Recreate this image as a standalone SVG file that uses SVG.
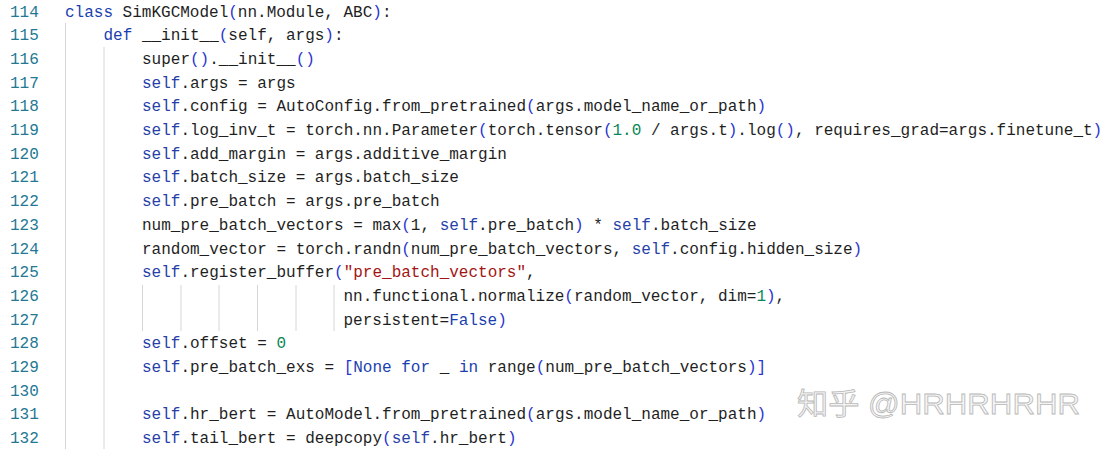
<svg xmlns="http://www.w3.org/2000/svg" width="1108" height="449" viewBox="0 0 1108 449">
<style>
text{font-family:"Liberation Mono","DejaVu Sans Mono",monospace;font-size:16px;fill:#1f1f1f;white-space:pre}
.n{fill:#237893}
.k{fill:#1a3fb0}
.s{fill:#2740a8}
.p{fill:#2a36d0}
.str{fill:#a31515}
.num{fill:#098658}
.g{stroke:#d6d6d6;stroke-width:1}
.wm{font-family:"Liberation Sans","Noto Sans CJK SC",sans-serif;font-size:30px;fill:#f4f4f4;stroke:#b8b8b8;stroke-width:0.8}
</style>
<rect width="1108" height="449" fill="#ffffff"/>
<g id="guides">
<line class="g" x1="65.5" y1="23" x2="65.5" y2="449"/>
<line class="g" x1="104" y1="47" x2="104" y2="449"/>
<line class="g" x1="142.5" y1="285" x2="142.5" y2="331"/>
<line class="g" x1="181" y1="285" x2="181" y2="331"/>
<line class="g" x1="219" y1="285" x2="219" y2="331"/>
<line class="g" x1="257.5" y1="285" x2="257.5" y2="331"/>
<line class="g" x1="296" y1="285" x2="296" y2="331"/>
<line class="g" x1="334" y1="285" x2="334" y2="331"/>
</g>
<g id="code" xml:space="preserve">
<text x="10" y="16.5" class="n">114</text>
<text x="65" y="16.5"><tspan class="k">class</tspan> SimKGCModel<tspan class="p">(</tspan>nn.Module, ABC<tspan class="p">)</tspan>:</text>
<text x="10" y="40.2" class="n">115</text>
<text x="103.5" y="40.2"><tspan class="k">def</tspan> __init__<tspan class="p">(</tspan>self, args<tspan class="p">)</tspan>:</text>
<text x="10" y="63.9" class="n">116</text>
<text x="142" y="63.9">super<tspan class="p">()</tspan>.__init__<tspan class="p">()</tspan></text>
<text x="10" y="87.6" class="n">117</text>
<text x="142" y="87.6"><tspan class="s">self</tspan>.args = args</text>
<text x="10" y="111.3" class="n">118</text>
<text x="142" y="111.3"><tspan class="s">self</tspan>.config = AutoConfig.from_pretrained<tspan class="p">(</tspan>args.model_name_or_path<tspan class="p">)</tspan></text>
<text x="10" y="135" class="n">119</text>
<text x="142" y="135"><tspan class="s">self</tspan>.log_inv_t = torch.nn.Parameter<tspan class="p">(</tspan>torch.tensor<tspan class="p">(</tspan><tspan class="num">1.0</tspan> / args.t<tspan class="p">)</tspan>.log<tspan class="p">()</tspan>, requires_grad=args.finetune_t<tspan class="p">)</tspan></text>
<text x="10" y="158.7" class="n">120</text>
<text x="142" y="158.7"><tspan class="s">self</tspan>.add_margin = args.additive_margin</text>
<text x="10" y="182.4" class="n">121</text>
<text x="142" y="182.4"><tspan class="s">self</tspan>.batch_size = args.batch_size</text>
<text x="10" y="206.1" class="n">122</text>
<text x="142" y="206.1"><tspan class="s">self</tspan>.pre_batch = args.pre_batch</text>
<text x="10" y="229.8" class="n">123</text>
<text x="142" y="229.8">num_pre_batch_vectors = max<tspan class="p">(</tspan>1, <tspan class="s">self</tspan>.pre_batch<tspan class="p">)</tspan> * <tspan class="s">self</tspan>.batch_size</text>
<text x="10" y="253.5" class="n">124</text>
<text x="142" y="253.5">random_vector = torch.randn<tspan class="p">(</tspan>num_pre_batch_vectors, <tspan class="s">self</tspan>.config.hidden_size<tspan class="p">)</tspan></text>
<text x="10" y="277.2" class="n">125</text>
<text x="142" y="277.2"><tspan class="s">self</tspan>.register_buffer<tspan class="p">(</tspan><tspan class="str">"pre_batch_vectors"</tspan>,</text>
<text x="10" y="300.9" class="n">126</text>
<text x="343.5" y="300.9">nn.functional.normalize<tspan class="p">(</tspan>random_vector, dim=<tspan class="num">1</tspan><tspan class="p">)</tspan>,</text>
<text x="10" y="324.6" class="n">127</text>
<text x="343.5" y="324.6">persistent=<tspan class="k">False</tspan><tspan class="p">)</tspan></text>
<text x="10" y="348.3" class="n">128</text>
<text x="142" y="348.3"><tspan class="s">self</tspan>.offset = <tspan class="num">0</tspan></text>
<text x="10" y="372" class="n">129</text>
<text x="142" y="372"><tspan class="s">self</tspan>.pre_batch_exs = <tspan class="p">[</tspan><tspan class="k">None</tspan> <tspan class="k">for</tspan> _ <tspan class="k">in</tspan> range<tspan class="p">(</tspan>num_pre_batch_vectors<tspan class="p">)]</tspan></text>
<text x="10" y="395.7" class="n">130</text>
<text x="10" y="419.4" class="n">131</text>
<text x="142" y="419.4"><tspan class="s">self</tspan>.hr_bert = AutoModel.from_pretrained<tspan class="p">(</tspan>args.model_name_or_path<tspan class="p">)</tspan></text>
<text x="10" y="443.1" class="n">132</text>
<text x="142" y="443.1"><tspan class="s">self</tspan>.tail_bert = deepcopy<tspan class="p">(</tspan><tspan class="s">self</tspan>.hr_bert<tspan class="p">)</tspan></text>
</g>
<text id="watermark" class="wm" x="797" y="414" textLength="283" lengthAdjust="spacingAndGlyphs">知乎 @HRHRHRHR</text>
</svg>
